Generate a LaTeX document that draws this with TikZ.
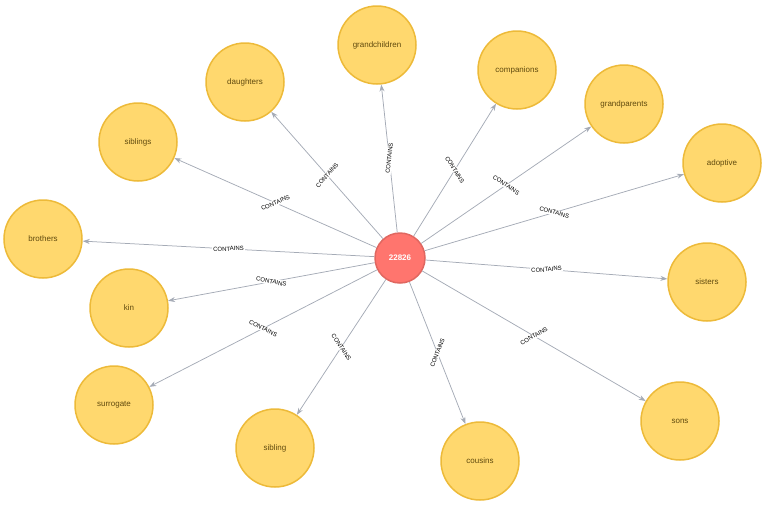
\documentclass[tikz,border=0pt]{standalone}
\usepackage{fontspec}
\setmainfont{Liberation Sans}
\usetikzlibrary{arrows.meta}
\definecolor{termfill}{HTML}{FFD86E}
\definecolor{termline}{HTML}{EDBA39}
\definecolor{termtext}{HTML}{604A0E}
\definecolor{hubfill}{HTML}{FF756E}
\definecolor{hubline}{HTML}{E06760}
\definecolor{relline}{HTML}{A5ABB6}
\tikzset{every picture/.style={line width=0.75pt}}
\tikzset{
  term/.style={circle, draw=termline, fill=termfill, line width=1.5pt, minimum size=78pt, inner sep=0pt, text=termtext, font=\fontsize{8}{9}\selectfont},
  hub/.style={circle, draw=hubline, fill=hubfill, line width=1.5pt, minimum size=50pt, inner sep=0pt, text=white, font=\bfseries\fontsize{8}{9}\selectfont},
  rel/.style={draw=relline, -{Stealth[length=7pt,width=5pt]}},
  rellabel/.style={sloped, fill=white, inner sep=1pt, font=\fontsize{6}{7}\selectfont}
}
\begin{document}
\begin{tikzpicture}[x=1pt,y=1pt,yscale=-1]
\useasboundingbox (0,0) rectangle (767,525);

% Hub
\node[hub] (hub) at (400,258) {22826};

% Terms
\node[term] (grandchildren) at (377,45) {grandchildren};
\node[term] (companions) at (517,70) {companions};
\node[term] (grandparents) at (624,104) {grandparents};
\node[term] (adoptive) at (722,163) {adoptive};
\node[term] (sisters) at (707,282) {sisters};
\node[term] (sons) at (680,421) {sons};
\node[term] (cousins) at (480,461) {cousins};
\node[term] (sibling) at (275,448) {sibling};
\node[term] (surrogate) at (114,405) {surrogate};
\node[term] (kin) at (129,308) {kin};
\node[term] (brothers) at (43,239) {brothers};
\node[term] (siblings) at (138,142) {siblings};
\node[term] (daughters) at (245,82) {daughters};

% Relations
\foreach \t in {grandchildren,companions,grandparents,adoptive,sisters,sons,cousins,sibling,surrogate,kin,brothers,siblings,daughters}
  \draw[rel] (hub) -- node[rellabel] {CONTAINS} (\t);

\end{tikzpicture}
\end{document}
